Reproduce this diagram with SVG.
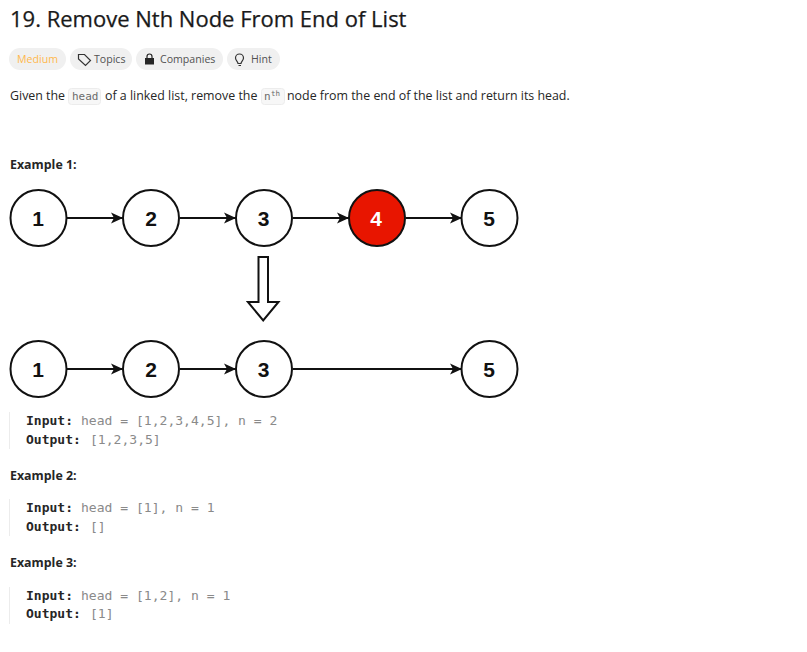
<svg xmlns="http://www.w3.org/2000/svg" width="807" height="652" viewBox="0 0 807 652">
<defs>
<style>
text{font-family:"Open Sans","Noto Sans","DejaVu Sans",sans-serif}
.title{font-size:22px;font-weight:500;fill:#1a1a1a;stroke:#1a1a1a;stroke-width:.25px}
.pill{fill:#f0f0f0}
.tag{font-size:10.600px;fill:#525252}
.med{font-size:10.600px;fill:#ffb84d}
.body{font-size:12.400px;fill:#262626}
.ex{font-size:12.400px;font-weight:700;fill:#262626}
.code{font-family:"DejaVu Sans Mono","Liberation Mono",monospace;font-size:11px;fill:#6b6b6b}
.sup{font-family:"DejaVu Sans Mono","Liberation Mono",monospace;font-size:7.500px;fill:#6b6b6b}
.key{font-family:"DejaVu Sans Mono","Liberation Mono",monospace;font-size:13px;font-weight:700;fill:#262626}
.val{font-family:"DejaVu Sans Mono","Liberation Mono",monospace;font-size:13.050px;fill:#8a8a8a}
.chip{fill:#f7f7f7;stroke:#ececec}
.n{fill:#fff;stroke:#111;stroke-width:2}
.lbl{font-family:"Liberation Sans",Arial,sans-serif;font-size:21px;font-weight:700;fill:#111;text-anchor:middle}
.c{stroke:#111;stroke-width:2;fill:none;marker-end:url(#a)}
.bar{stroke:#ececec;stroke-width:1}
</style>
<marker id="a" markerUnits="userSpaceOnUse" markerWidth="13" markerHeight="13" refX="12" refY="6" orient="auto"><path d="M0 0.500L12 6L0 11.500L3 6Z" fill="#111"/></marker>
</defs>
<text class="title" x="10" y="27">19. Remove Nth Node From End of List</text>
<g id="tags">
<rect class="pill" x="9" y="48" width="57" height="22" rx="11"/><text class="med" x="17" y="63">Medium</text>
<rect class="pill" x="70" y="48" width="62" height="22" rx="11"/>
<path d="M78.500 54.500h6l6 6-5 5-7-6.500z" fill="none" stroke="#333" stroke-width="1.200"/><text class="tag" x="94" y="63">Topics</text>
<rect class="pill" x="136" y="48" width="87" height="22" rx="11"/>
<path d="M145 58h9v6.500h-9z" fill="#262626"/><path d="M147 58v-1.500a2.500 2.500 0 0 1 5 0V58" fill="none" stroke="#262626" stroke-width="1.200"/><text class="tag" x="160" y="63">Companies</text>
<rect class="pill" x="227" y="48" width="53" height="22" rx="11"/>
<path d="M238 63.500c0-2-2.500-3-2.500-5.500a4 4 0 0 1 8 0c0 2.500-2.500 3.500-2.500 5.500zM238.500 65.500h2.500" fill="none" stroke="#333" stroke-width="1.200"/><text class="tag" x="251" y="63">Hint</text>
</g>
<text class="body" x="10" y="100">Given the</text>
<rect class="chip" x="68.500" y="88.500" width="32" height="16" rx="3"/><text class="code" x="72" y="100">head</text>
<text class="body" x="105" y="100">of a linked list, remove the</text>
<rect class="chip" x="261.500" y="88.500" width="23" height="16" rx="3"/><text class="code" x="264" y="100">n</text><text class="sup" x="271" y="96">th</text>
<text class="body" x="287" y="100">node from the end of the list and return its head.</text>
<text class="ex" x="10" y="169">Example 1:</text>
<g id="connectors">
<path class="c" d="M67 218H123"/><path class="c" d="M180 218H236"/><path class="c" d="M293 218H349"/><path class="c" d="M406 218H462"/>
<path class="c" d="M67 369H123"/><path class="c" d="M180 369H236"/><path class="c" d="M293 369H462"/>
</g>
<g id="arrow"><path d="M258.500 257h9.500v45h10.500l-15.300 18.500-15.300-18.500h10.600z" fill="#fff" stroke="#111" stroke-width="2"/></g>
<g id="n1"><circle class="n" cx="38.500" cy="218" r="28"/><text class="lbl" x="38" y="226">1</text></g>
<g id="n2"><circle class="n" cx="151" cy="218" r="28"/><text class="lbl" x="151" y="226">2</text></g>
<g id="n3"><circle class="n" cx="264" cy="218" r="28"/><text class="lbl" x="263.500" y="226">3</text></g>
<g id="n4"><circle class="n" cx="377" cy="218" r="28" style="fill:#e81500"/><text class="lbl" x="376" y="226" style="fill:#fff">4</text></g>
<g id="n5"><circle class="n" cx="489.500" cy="218" r="28"/><text class="lbl" x="489" y="226">5</text></g>
<g id="m1"><circle class="n" cx="38.500" cy="369" r="28"/><text class="lbl" x="38" y="377">1</text></g>
<g id="m2"><circle class="n" cx="151" cy="369" r="28"/><text class="lbl" x="151" y="377">2</text></g>
<g id="m3"><circle class="n" cx="264" cy="369" r="28"/><text class="lbl" x="263.500" y="377">3</text></g>
<g id="m5"><circle class="n" cx="489.500" cy="369" r="28"/><text class="lbl" x="489" y="377">5</text></g>
<path class="bar" d="M9.500 412V449M9.500 499V536M9.500 587V624"/>
<text class="key" x="26" y="425">Input:</text><text class="val" x="81" y="425">head = [1,2,3,4,5], n = 2</text>
<text class="key" x="26" y="444">Output:</text><text class="val" x="90" y="444">[1,2,3,5]</text>
<text class="ex" x="10" y="480">Example 2:</text>
<text class="key" x="26" y="512">Input:</text><text class="val" x="81" y="512">head = [1], n = 1</text>
<text class="key" x="26" y="531">Output:</text><text class="val" x="90" y="531">[]</text>
<text class="ex" x="10" y="567">Example 3:</text>
<text class="key" x="26" y="600">Input:</text><text class="val" x="81" y="600">head = [1,2], n = 1</text>
<text class="key" x="26" y="618">Output:</text><text class="val" x="90" y="618">[1]</text>
</svg>
